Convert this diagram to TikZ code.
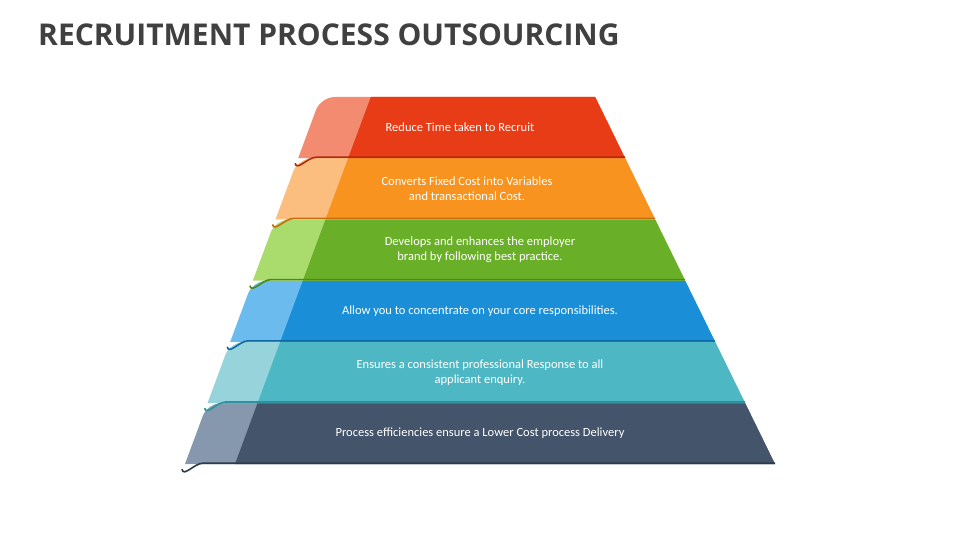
\documentclass[tikz,border=0pt]{standalone}
\usepackage{fontspec}
\setmainfont{Carlito}
\newfontfamily\titlefont{Open Sans}
\definecolor{cA}{HTML}{E83C16}\definecolor{lA}{HTML}{F28B70}\definecolor{dA}{HTML}{B02A0C}
\definecolor{cB}{HTML}{F7931E}\definecolor{lB}{HTML}{FBBE7E}\definecolor{dB}{HTML}{C86E0E}
\definecolor{cC}{HTML}{6AAF28}\definecolor{lC}{HTML}{A9DC6C}\definecolor{dC}{HTML}{4C8A18}
\definecolor{cD}{HTML}{1A8ED6}\definecolor{lD}{HTML}{6BBBEE}\definecolor{dD}{HTML}{0F6AA8}
\definecolor{cE}{HTML}{4DB8C4}\definecolor{lE}{HTML}{96D3DA}\definecolor{dE}{HTML}{2E939E}
\definecolor{cF}{HTML}{44546A}\definecolor{lF}{HTML}{8598AE}\definecolor{dF}{HTML}{2E3A4A}
\definecolor{titlegray}{HTML}{404040}
\tikzset{lbl/.style={text=white,font=\fontsize{12.5}{15}\selectfont,align=center}}
\begin{document}
\begin{tikzpicture}[x=1pt,y=-1pt]
\useasboundingbox (0,0) rectangle (960,540);
\node[anchor=west,text=titlegray,font=\titlefont\bfseries\fontsize{30}{34}\selectfont,inner sep=0] (title) at (38,35) {RECRUITMENT PROCESS OUTSOURCING};
\foreach \i/\c/\tx/\txt in {5/F/480/{Process efficiencies ensure a Lower Cost process Delivery},
  4/E/480/{Ensures a consistent professional Response to all\\applicant enquiry.},
  3/D/480/{Allow you to concentrate on your core responsibilities.},
  2/C/480/{Develops and enhances the employer\\brand by following best practice.},
  1/B/467/{Converts Fixed Cost into Variables\\and transactional Cost.},
  0/A/460/{Reduce Time taken to Recruit}}{
  \pgfmathsetmacro\yt{97+61.2*\i}
  \pgfmathsetmacro\yb{\yt+61.2}
  \pgfmathsetmacro\xlt{185+(464-\yt)*0.37}
  \pgfmathsetmacro\xlb{185+(464-\yb)*0.37}
  \pgfmathsetmacro\xrt{775-(464-\yt)*0.49}
  \pgfmathsetmacro\xrb{775-(464-\yb)*0.49}
  \fill[l\c] (\xlb,\yb) [rounded corners=14] -- (\xlt,\yt) [sharp corners] -- (\xrt,\yt) -- (\xrb,\yb) -- cycle;
  \fill[c\c] (\xlb+50,\yb) -- (\xlt+50,\yt) -- (\xrt,\yt) -- (\xrb,\yb) -- cycle;
  \draw[d\c,line width=1.6] (\xlb-3,\yb+5) to[out=-80,in=180] (\xlb+18,\yb-1) -- (\xrb,\yb-1);
  \node[lbl] (t\i) at (\tx,{(\yt+\yb)/2}) {\txt};
}
\end{tikzpicture}
\end{document}
